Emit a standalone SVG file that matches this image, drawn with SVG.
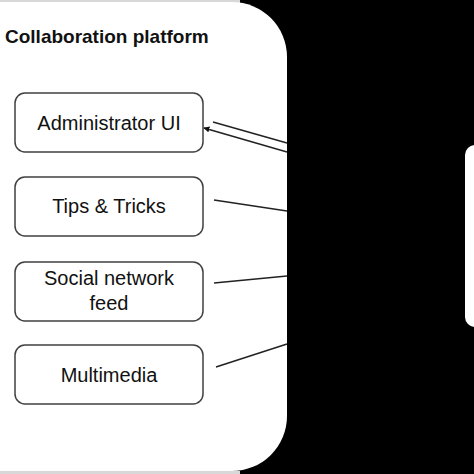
<svg xmlns="http://www.w3.org/2000/svg" width="474" height="474" viewBox="0 0 474 474">
<style>
.box{fill:#fff;stroke:#404040;stroke-width:1.5}
.lbl{font-family:"Liberation Sans",Arial,sans-serif;font-size:20px;fill:#111;text-anchor:middle}
.title{font-family:"Liberation Sans",Arial,sans-serif;font-size:19px;font-weight:bold;fill:#111}
.con{stroke:#222;stroke-width:1.5;fill:none}
</style>
<defs>
<marker id="ah" viewBox="0 0 10 10" refX="9" refY="5" markerWidth="6" markerHeight="6" orient="auto" markerUnits="userSpaceOnUse">
<path d="M0,0 L10,5 L0,10 z" fill="#111"/>
</marker>
</defs>
<rect x="0" y="0" width="474" height="474" fill="#000"/>
<rect x="0" y="0" width="240" height="3" fill="#d8d8d8"/>
<rect x="0" y="471" width="240" height="3" fill="#d8d8d8"/>
<rect x="-60" y="2" width="347" height="469" rx="55" fill="#fff"/>
<rect x="465" y="145" width="40" height="182" rx="10" fill="#fff"/>
<text class="title" x="5" y="43">Collaboration platform</text>
<g id="admin"><rect class="box" x="15" y="93" width="188" height="59" rx="10"/><text class="lbl" x="109" y="130">Administrator UI</text></g>
<g id="tips"><rect class="box" x="15" y="177" width="188" height="59" rx="10"/><text class="lbl" x="109" y="213">Tips &amp; Tricks</text></g>
<g id="social"><rect class="box" x="15" y="262" width="188" height="59" rx="10"/><text class="lbl" x="109" y="285">Social network</text><text class="lbl" x="109" y="310">feed</text></g>
<g id="multimedia"><rect class="box" x="15" y="345" width="188" height="59" rx="10"/><text class="lbl" x="109" y="382">Multimedia</text></g>
<g id="connectors">
<line class="con" x1="213" y1="122" x2="287" y2="143"/>
<line class="con" x1="287" y1="152" x2="204" y2="128" marker-end="url(#ah)"/>
<line class="con" x1="214" y1="200" x2="287" y2="211"/>
<line class="con" x1="214" y1="283" x2="287" y2="276"/>
<line class="con" x1="216" y1="367" x2="287" y2="344"/>
</g>
</svg>
